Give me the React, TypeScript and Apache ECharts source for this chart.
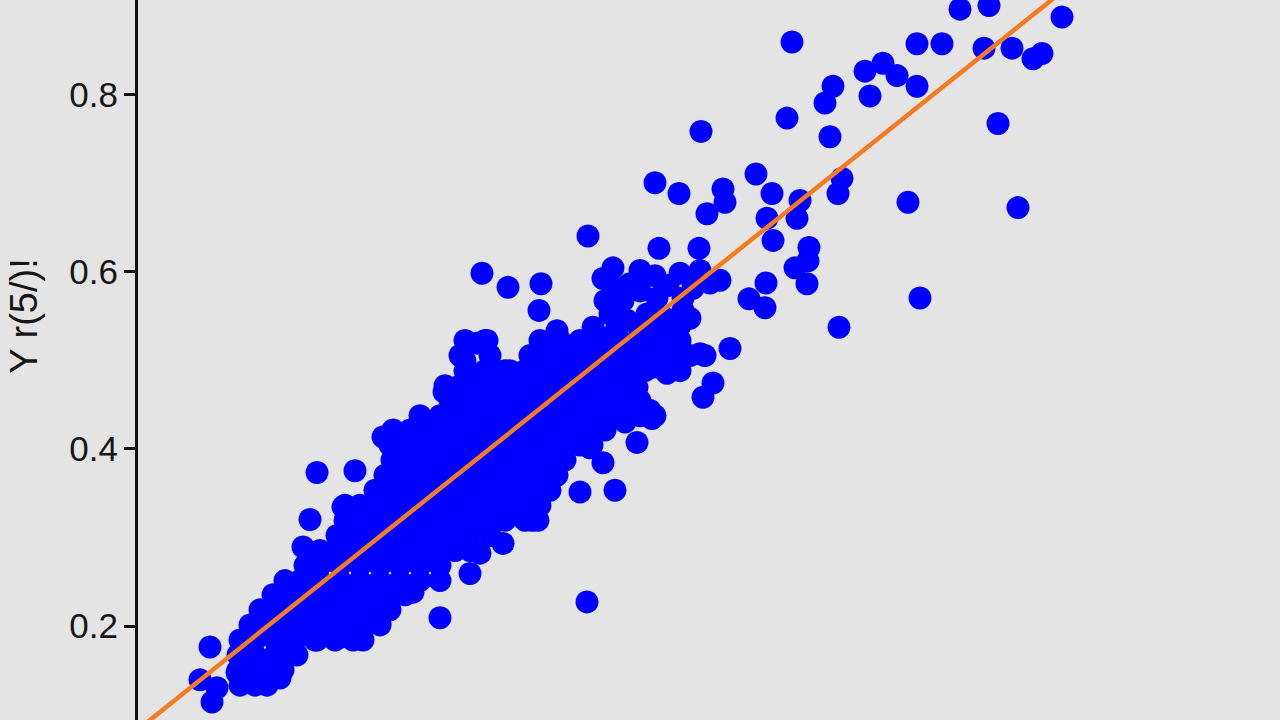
import React, { useEffect, useRef } from "react";
import * as echarts from "echarts";

// Y axis ticks (values) and title
const yTickValues = [0.2, 0.4, 0.6, 0.8];
const yAxisTitle = "Y r(5/)!";

// Fitted regression line end points (x, y)
const fitX = [0.136, 1.1];
const fitY = [0.081, 0.95];

// Dense core of the cloud
const coreCluster: [number, number][] = [
  [0.465, 0.522], [0.485, 0.522], [0.54, 0.522], [0.56, 0.522], [0.58, 0.522], [0.6, 0.522], [0.62, 0.522], [0.64, 0.522], [0.66, 0.522], [0.68, 0.522],
  [0.46, 0.505], [0.49, 0.505], [0.53, 0.505], [0.55, 0.505], [0.57, 0.505], [0.59, 0.505], [0.61, 0.505], [0.63, 0.505], [0.65, 0.505], [0.67, 0.505], [0.69, 0.505], [0.705, 0.505],
  [0.465, 0.488], [0.485, 0.488], [0.505, 0.488], [0.525, 0.488], [0.545, 0.488], [0.565, 0.488], [0.585, 0.488], [0.605, 0.488], [0.625, 0.488], [0.645, 0.488], [0.665, 0.488], [0.68, 0.488],
  [0.445, 0.471], [0.46, 0.471], [0.48, 0.471], [0.5, 0.471], [0.52, 0.471], [0.54, 0.471], [0.56, 0.471], [0.58, 0.471], [0.6, 0.471], [0.62, 0.471], [0.632, 0.471],
  [0.45, 0.454], [0.47, 0.454], [0.49, 0.454], [0.51, 0.454], [0.53, 0.454], [0.55, 0.454], [0.57, 0.454], [0.59, 0.454], [0.61, 0.454], [0.63, 0.454], [0.64, 0.454],
  [0.42, 0.437], [0.44, 0.437], [0.46, 0.437], [0.48, 0.437], [0.5, 0.437], [0.52, 0.437], [0.54, 0.437], [0.56, 0.437], [0.58, 0.437], [0.6, 0.437], [0.62, 0.437], [0.64, 0.437], [0.655, 0.437],
  [0.393, 0.421], [0.41, 0.421], [0.43, 0.421], [0.45, 0.421], [0.47, 0.421], [0.49, 0.421], [0.51, 0.421], [0.53, 0.421], [0.55, 0.421], [0.57, 0.421], [0.59, 0.421], [0.605, 0.421],
  [0.39, 0.404], [0.4, 0.404], [0.42, 0.404], [0.44, 0.404], [0.46, 0.404], [0.48, 0.404], [0.5, 0.404], [0.52, 0.404], [0.54, 0.404], [0.56, 0.404], [0.58, 0.404], [0.592, 0.404],
  [0.392, 0.387], [0.41, 0.387], [0.43, 0.387], [0.45, 0.387], [0.47, 0.387], [0.49, 0.387], [0.51, 0.387], [0.53, 0.387], [0.55, 0.387], [0.565, 0.387],
  [0.385, 0.37], [0.4, 0.37], [0.42, 0.37], [0.44, 0.37], [0.46, 0.37], [0.48, 0.37], [0.5, 0.37], [0.52, 0.37], [0.54, 0.37], [0.557, 0.37],
  [0.375, 0.353], [0.39, 0.353], [0.41, 0.353], [0.43, 0.353], [0.45, 0.353], [0.47, 0.353], [0.49, 0.353], [0.51, 0.353], [0.53, 0.353], [0.55, 0.353],
  [0.345, 0.336], [0.36, 0.336], [0.38, 0.336], [0.4, 0.336], [0.42, 0.336], [0.44, 0.336], [0.46, 0.336], [0.48, 0.336], [0.5, 0.336], [0.52, 0.336], [0.54, 0.336],
  [0.345, 0.319], [0.365, 0.319], [0.385, 0.319], [0.405, 0.319], [0.425, 0.319], [0.445, 0.319], [0.465, 0.319], [0.485, 0.319], [0.505, 0.319], [0.525, 0.319], [0.532, 0.319],
  [0.337, 0.302], [0.35, 0.302], [0.37, 0.302], [0.39, 0.302], [0.41, 0.302], [0.43, 0.302], [0.45, 0.302], [0.47, 0.302], [0.49, 0.302],
  [0.32, 0.285], [0.335, 0.285], [0.355, 0.285], [0.375, 0.285], [0.395, 0.285], [0.415, 0.285], [0.435, 0.285], [0.455, 0.285], [0.47, 0.285],
  [0.305, 0.268], [0.32, 0.268], [0.34, 0.268], [0.36, 0.268], [0.38, 0.268], [0.4, 0.268], [0.42, 0.268], [0.44, 0.268],
  [0.285, 0.251], [0.3, 0.251], [0.32, 0.251], [0.34, 0.251], [0.36, 0.251], [0.38, 0.251], [0.4, 0.251], [0.42, 0.251],
  [0.273, 0.235], [0.29, 0.235], [0.31, 0.235], [0.33, 0.235], [0.35, 0.235], [0.37, 0.235], [0.39, 0.235], [0.405, 0.235],
  [0.26, 0.218], [0.28, 0.218], [0.3, 0.218], [0.32, 0.218], [0.34, 0.218], [0.36, 0.218], [0.38, 0.218], [0.39, 0.218],
  [0.25, 0.201], [0.265, 0.201], [0.285, 0.201], [0.305, 0.201], [0.325, 0.201], [0.345, 0.201], [0.365, 0.201], [0.38, 0.201],
  [0.24, 0.184], [0.255, 0.184], [0.275, 0.184], [0.295, 0.184], [0.315, 0.184], [0.335, 0.184], [0.353, 0.184],
  [0.238, 0.167], [0.255, 0.167], [0.275, 0.167], [0.297, 0.167],
  [0.238, 0.15], [0.255, 0.15], [0.27, 0.15], [0.283, 0.15],
  [0.24, 0.133], [0.255, 0.133], [0.267, 0.133],
];

// Looser group in the middle-upper part of the cloud
const midCluster: [number, number][] = [
  [0.603, 0.592], [0.613, 0.604], [0.617, 0.582], [0.64, 0.601], [0.655, 0.595], [0.68, 0.598],
  [0.7, 0.601], [0.72, 0.59], [0.71, 0.587], [0.623, 0.567], [0.64, 0.578], [0.657, 0.57],
  [0.683, 0.57], [0.647, 0.552], [0.683, 0.556], [0.68, 0.539], [0.627, 0.545], [0.605, 0.567],
  [0.63, 0.586], [0.668, 0.584], [0.693, 0.581], [0.61, 0.552], [0.665, 0.547], [0.69, 0.547],
  [0.64, 0.533],
  [0.766, 0.587], [0.749, 0.569], [0.765, 0.559],
  [0.557, 0.533], [0.557, 0.516], [0.593, 0.537], [0.617, 0.537], [0.607, 0.525], [0.66, 0.533],
  [0.657, 0.514], [0.64, 0.507], [0.627, 0.503], [0.673, 0.511], [0.68, 0.499], [0.7, 0.507],
  [0.73, 0.513], [0.667, 0.485], [0.653, 0.492], [0.713, 0.474], [0.703, 0.458], [0.637, 0.469],
  [0.613, 0.48], [0.607, 0.462], [0.62, 0.452], [0.65, 0.443], [0.627, 0.44],
];

// Points along the ragged edges of the cloud
const edgePoints: [number, number][] = [
  [0.652, 0.434], [0.625, 0.43], [0.637, 0.407], [0.59, 0.401], [0.603, 0.384], [0.58, 0.351],
  [0.615, 0.353], [0.538, 0.319], [0.503, 0.293], [0.48, 0.282], [0.47, 0.259], [0.44, 0.251],
  [0.413, 0.238], [0.38, 0.203], [0.363, 0.184], [0.34, 0.187], [0.317, 0.184], [0.293, 0.17],
  [0.28, 0.141], [0.247, 0.136], [0.237, 0.147], [0.217, 0.13], [0.212, 0.114], [0.2, 0.139],
  [0.21, 0.176],
  [0.317, 0.373], [0.355, 0.375], [0.343, 0.334], [0.31, 0.32], [0.303, 0.289], [0.317, 0.28],
  [0.383, 0.413], [0.393, 0.407], [0.422, 0.43], [0.444, 0.464], [0.465, 0.499], [0.477, 0.519],
  [0.487, 0.522], [0.51, 0.488],
];

// Scattered points away from the core
const outliers: [number, number][] = [
  [0.96, 0.896], [0.989, 0.9], [1.062, 0.887], [0.792, 0.859], [0.917, 0.857], [0.942, 0.857],
  [0.984, 0.852], [1.012, 0.852], [1.033, 0.84], [1.042, 0.846], [0.865, 0.826], [0.883, 0.835],
  [0.897, 0.821], [0.917, 0.809], [0.87, 0.798], [0.833, 0.809], [0.825, 0.79], [0.787, 0.773],
  [0.701, 0.758], [0.83, 0.752], [0.998, 0.767], [0.756, 0.71], [0.655, 0.7], [0.679, 0.688],
  [0.723, 0.693], [0.725, 0.678], [0.707, 0.665], [0.772, 0.688], [0.842, 0.705], [0.838, 0.688],
  [0.908, 0.678], [1.018, 0.672], [0.8, 0.68], [0.797, 0.66], [0.767, 0.66], [0.588, 0.64],
  [0.659, 0.626], [0.699, 0.626], [0.773, 0.635], [0.809, 0.627], [0.808, 0.612], [0.795, 0.604],
  [0.807, 0.586], [0.92, 0.57], [0.839, 0.537], [0.482, 0.598], [0.508, 0.582], [0.541, 0.586],
  [0.539, 0.556], [0.587, 0.227], [0.44, 0.209],
];

const allPoints = [...coreCluster, ...midCluster, ...edgePoints, ...outliers];

export default function App() {
  const ref = useRef<HTMLDivElement>(null);
  useEffect(() => {
    if (!ref.current) return;
    const chart = echarts.init(ref.current, undefined, { renderer: "svg" });
    const labelFont = "'Liberation Sans', Arial, Helvetica, sans-serif";
    chart.setOption({
      animation: false,
      backgroundColor: "#e4e4e4",
      grid: { left: 136, right: 0, top: -83, bottom: -83, containLabel: false, outerBoundsMode: "none" },
      xAxis: {
        type: "value",
        min: 0.136,
        max: 1.28,
        show: false,
        splitLine: { show: false },
      },
      yAxis: {
        type: "value",
        min: 0,
        max: 1,
        interval: 0.2,
        splitLine: { show: false },
        axisLine: { show: true, lineStyle: { color: "#111", width: 3 } },
        axisTick: { show: true, length: 12, lineStyle: { color: "#111", width: 3 } },
        axisLabel: {
          show: true,
          margin: 18,
          fontSize: 35,
          fontFamily: labelFont,
          color: "#161616",
          formatter: (v: number) => (yTickValues.some((t) => Math.abs(t - v) < 1e-9) ? v.toFixed(1) : ""),
        },
      },
      graphic: [
        {
          type: "text",
          x: 24,
          y: 316,
          rotation: Math.PI / 2,
          style: {
            text: yAxisTitle,
            font: `38px ${labelFont}`,
            fill: "#161616",
            align: "center",
            verticalAlign: "middle",
          },
        },
      ],
      series: [
        {
          type: "scatter",
          data: allPoints,
          symbol: "circle",
          symbolSize: 23,
          itemStyle: { color: "#0000ff", opacity: 1 },
          z: 2,
        },
        {
          type: "line",
          data: fitX.map((x, i) => [x, fitY[i]]),
          symbol: "none",
          lineStyle: { color: "#f47b20", width: 4.5 },
          clip: true,
          z: 3,
        },
      ],
    });
    return () => chart.dispose();
  }, []);
  return (
    <div
      ref={ref}
      style={{ position: "fixed", left: 0, top: 0, width: 1280, height: 720 }}
    />
  );
}
